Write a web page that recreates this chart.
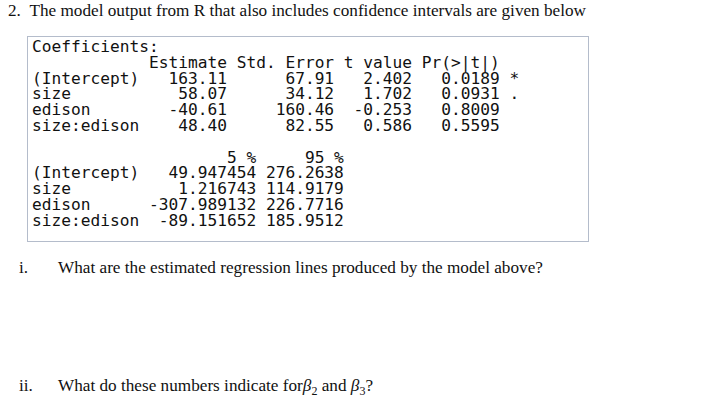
<!DOCTYPE html>
<html>
<head>
<meta charset="utf-8">
<script src="https://cdn.jsdelivr.net/npm/chart.js@4"></script>
<style>
  body { margin: 0; width: 718px; height: 412px; background: #fff; color: #111; position: relative; font-family: "Liberation Serif", "Times New Roman", serif; font-size: 17.2px; }
  .q { position: absolute; white-space: nowrap; }
  #box { position: absolute; left: 27px; top: 36px; width: 562px; height: 206px; border: 1px solid #b4bccb; box-sizing: border-box; }
  pre { margin: 0; position: absolute; left: 4px; top: 2px; font-family: "DejaVu Sans Mono", monospace; font-size: 16.2px; line-height: 15.8px; color: #111; }
</style>
</head>
<body>
<div class="q" style="left:8px;top:1px">2.&nbsp;&nbsp;The model output from R that also includes confidence intervals are given below</div>
<div id="box"><pre id="out"></pre></div>
<div class="q" style="left:19px;top:258px">i.</div>
<div class="q" style="left:58px;top:258px">What are the estimated regression lines produced by the model above?</div>
<div class="q" style="left:19px;top:376px">ii.</div>
<div class="q" style="left:58px;top:376px">What do these numbers indicate for<i>β</i><sub style="font-size:12px">2</sub> and <i>β</i><sub style="font-size:12px">3</sub>?</div>
<script>
// coefficient table
const terms = ["(Intercept)", "size", "edison", "size:edison"];
const estimates = ["163.11", "58.07", "-40.61", "48.40"];
const stdErrors = ["67.91", "34.12", "160.46", "82.55"];
const tValues = ["2.402", "1.702", "-0.253", "0.586"];
const pValues = ["0.0189", "0.0931", "0.8009", "0.5595"];
const signif = ["*", ".", "", ""];
// confidence intervals
const lower5 = ["49.947454", "1.216743", "-307.989132", "-89.151652"];
const upper95 = ["276.2638", "114.9179", "226.7716", "185.9512"];

const nameW = 11;
function row(name, cols, widths) {
  return name.padEnd(nameW) + cols.map((c, i) => " " + c.padStart(widths[i])).join("");
}

const lines = ["Coefficients:"];
const heads = ["Estimate", "Std. Error", "t value", "Pr(>|t|)"];
const w1 = heads.map(h => h.length);
lines.push(row("", heads, w1));
terms.forEach((t, i) => {
  lines.push(row(t, [estimates[i], stdErrors[i], tValues[i], pValues[i]], w1) + " " + signif[i]);
});
lines.push("");
const w2 = [11, 8];
lines.push(row("", ["5 %", "95 %"], w2));
terms.forEach((t, i) => lines.push(row(t, [lower5[i], upper95[i]], w2)));
document.getElementById("out").textContent = lines.join("\n");
</script>
</body>
</html>
